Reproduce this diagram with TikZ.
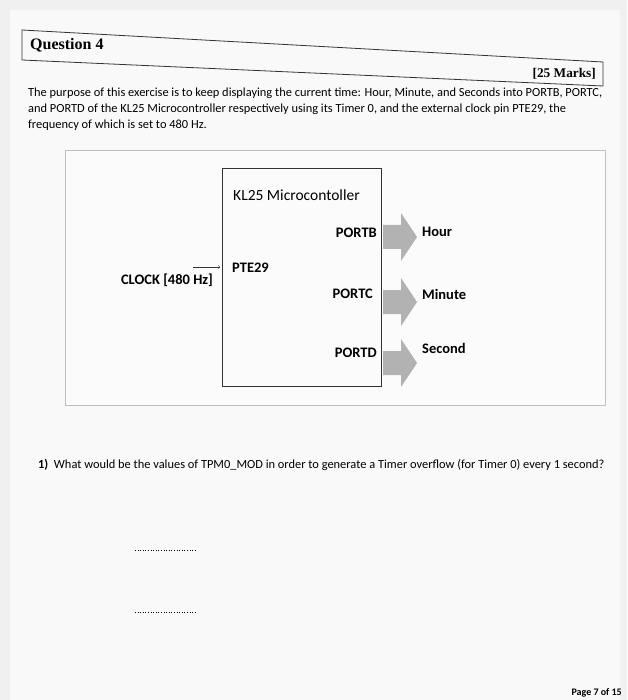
\documentclass[tikz,border=0pt]{standalone}
\usepackage{fontspec}
\setmainfont{Carlito}
\newfontfamily\tms{Liberation Serif}
\begin{document}
\begin{tikzpicture}[x=1pt,y=-1pt,
  txt/.style={inner sep=0pt,font=\fontsize{12.4}{14}\selectfont},
  lbl/.style={inner sep=0pt,font=\fontsize{14.5}{16}\selectfont\bfseries},
  fat/.style={fill=gray!60}]
\fill[gray!12] (0,0) rectangle (627,700);
\useasboundingbox (0,0) rectangle (627,700);
\fill[gray!5] (10,10) rectangle (620,700);
% header box
\draw[gray!40!black,line width=0.8pt] (22,30) -- (603,62) -- (603,86) -- (22,60) -- cycle;
\node[anchor=east,inner sep=0pt,font=\tms\bfseries\fontsize{13.3}{15}\selectfont] (m) at (596,74) {[25 Marks]};
\node[anchor=west,inner sep=0pt,font=\tms\bfseries\fontsize{16}{18}\selectfont] (q) at (30,45) {Question 4};
\node[txt,anchor=west] (p1) at (28,93) {The purpose of this exercise is to keep displaying the current time: Hour, Minute, and Seconds into PORTB, PORTC,};
\node[txt,anchor=west] (p2) at (28,109) {and PORTD of the KL25 Microcontroller respectively using its Timer 0, and the external clock pin PTE29, the};
\node[txt,anchor=west] (p3) at (28,125) {frequency of which is set to 480 Hz.};
% diagram
\draw[gray!50,fill=gray!3] (65,150) rectangle (605,405);
\draw[black!80,line width=0.8pt] (222,168) rectangle (381,386);
\node[anchor=west,inner sep=0pt,font=\fontsize{15.5}{17}\selectfont] (t) at (233,195) {KL25 Microcontoller};
\node[lbl,anchor=east] (pb) at (377,233) {PORTB};
\node[lbl,anchor=east] (pc) at (373,294) {PORTC};
\node[lbl,anchor=east] (pd) at (377,353) {PORTD};
\coordinate (ab) at (400,237);
\coordinate (ac) at (400,302);
\coordinate (ad) at (400,363);
\foreach \c in {ab,ac,ad}
  \fill[fat,shift={(\c)}] (-17,-12) -- (1,-12) -- (1,-24) -- (17,0) -- (1,24) -- (1,12) -- (-17,12) -- cycle;
\node[lbl,anchor=west] (h) at (422,232) {Hour};
\node[lbl,anchor=west] (mi) at (422,294) {Minute};
\node[lbl,anchor=west] (s) at (422,348) {Second};
\node[lbl] (clk) at (167,280) {CLOCK [480 Hz]};
\node[lbl,anchor=west] (pte) at (232,268) {PTE29};
\coordinate (cs) at (193,267);
\draw[->,gray!40!black] (cs) -- (220,267);
% question
\node[txt,anchor=west] (q1) at (38,465) {\textbf{1)}\ \ What would be the values of TPM0\_MOD in order to generate a Timer overflow (for Timer 0) every 1 second?};
\coordinate (d1a) at (135,550); \coordinate (d1b) at (197,550);
\coordinate (d2a) at (135,612); \coordinate (d2b) at (195,612);
\draw[dotted,line width=0.6pt] (d1a) -- (d1b);
\draw[dotted,line width=0.6pt] (d2a) -- (d2b);
\node[anchor=east,inner sep=0pt,font=\fontsize{10}{11}\selectfont\bfseries] (pg) at (622,693) {Page 7 of 15};
\end{tikzpicture}
\end{document}
